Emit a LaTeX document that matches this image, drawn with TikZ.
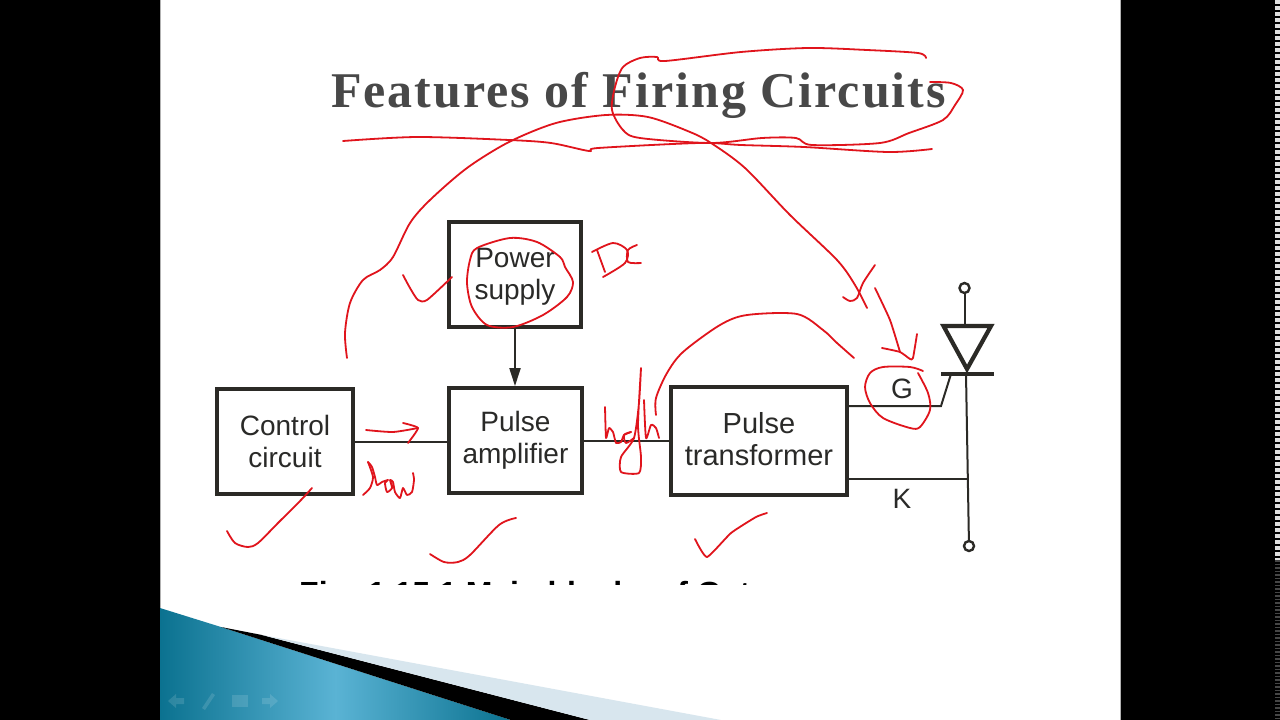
\documentclass[tikz,border=0pt]{standalone}
\usepackage{fontspec}
\setmainfont{Liberation Sans}
\newfontfamily\titlefont[LetterSpace=4.0]{Liberation Serif}
\definecolor{fcInk}{HTML}{E0141C}
\definecolor{fcText}{HTML}{2A2A28}
\definecolor{fcLine}{HTML}{2B2A26}
\definecolor{fcTitle}{HTML}{484848}
\definecolor{fcTealDark}{HTML}{0B7290}
\definecolor{fcTealLight}{HTML}{5AB3D4}
\definecolor{fcPale}{HTML}{D8E6EE}
\usetikzlibrary{arrows.meta}
\tikzset{
  blockbox/.style={draw=fcLine, line width=3.8pt, fill=white, text=fcText, align=center,
    inner sep=0pt, font=\fontsize{28}{31.5}\selectfont},
  wire/.style={draw=fcLine, line width=2pt},
  ink/.style={draw=fcInk, line width=1.8pt, line cap=round, line join=round},
  terminal/.style={circle, draw=fcLine, line width=2.4pt, fill=white, inner sep=0pt, minimum size=10pt},
  pinlabel/.style={text=fcText, font=\fontsize{28}{30}\selectfont, inner sep=0pt},
  navicon/.style={fill=white, opacity=0.13}
}
\begin{document}
\begin{tikzpicture}[x=1pt,y=-1pt]
  \useasboundingbox (0,0) rectangle (1280,720);
  \fill[black] (0,0) rectangle (1280,720);
  \fill[white] (160,0) rectangle (1121,720);
  \fill[gray!60] (1120,0) rectangle (1121.2,720);
  \fill[gray!60] (160,0) rectangle (161,720);
  % noise down the right edge
  \draw[line width=5pt, white!75!gray, dash pattern=on 4pt off 2pt] (1277.5,0) -- (1277.5,560);
  \draw[line width=5pt, gray!55!black, dash pattern=on 1.5pt off 2pt] (1277.5,560) -- (1277.5,720);
  % corner wedge of the slide
  \shade[left color=fcTealDark, right color=fcTealDark, middle color=fcTealLight]
    (160,608) -- (221,627) -- (511,720) -- (160,720) -- cycle;
  \fill[black] (221,627) -- (262,635) -- (590,720) -- (511,720) -- cycle;
  \fill[fcPale] (262,635) -- (721,720) -- (590,720) -- cycle;
  \fill[navicon] (168,701) -- (176,694) -- (176,698) -- (184,698) -- (184,704) -- (176,704) -- (176,708) -- cycle;
  \fill[navicon] (202,708) -- (212,693) -- (215,695) -- (205,710) -- cycle;
  \fill[navicon] (232,695) rectangle (248,707);
  \fill[navicon] (278,701) -- (270,694) -- (270,698) -- (262,698) -- (262,704) -- (270,704) -- (270,708) -- cycle;
  % title
  \node[anchor=base, inner sep=0pt, text=fcTitle, font=\titlefont\fontsize{50}{56}\selectfont\bfseries] (title) at (638.5,107) {Features of Firing Circuits};
  % blocks
  \node[blockbox, minimum width=136pt, minimum height=105pt] (ctrl) at (285,441.5) {Control\\circuit};
  \node[blockbox, minimum width=132pt, minimum height=105pt] (psu) at (515,274.5) {\rule{0pt}{24pt}Power\\supply};
  \node[blockbox, minimum width=133pt, minimum height=105pt] (amp) at (515.5,440.5) {Pulse\\amplifier};
  \node[blockbox, minimum width=176pt, minimum height=108pt, font=\fontsize{29}{32}\selectfont] (xfmr) at (759,441) {Pulse\\transformer\rule[-5pt]{0pt}{5pt}};
  \draw[wire] (ctrl.east) -- (ctrl.east -| amp.west);
  \draw[wire] (amp.east) -- (amp.east -| xfmr.west);
  \draw[wire, -{Triangle[length=18pt,width=11pt]}] (psu.south) -- (psu.south |- amp.north);
  % thyristor
  \node[terminal] (anode) at (964.5,288) {};
  \node[terminal] (cathode) at (969,546) {};
  \node[pinlabel] (pinG) at (902,389) {G};
  \node[pinlabel] (pinK) at (902,499) {K};
  \coordinate (triL) at (943.5,326);
  \coordinate (triR) at (991,326);
  \coordinate (triTip) at (967,369);
  \coordinate (barL) at (941,374);
  \coordinate (barR) at (994,374);
  \coordinate (barMid) at (966,374);
  \coordinate (gateTop) at (951,374);
  \coordinate (gateKnee) at (941,406);
  \coordinate (kJoin) at (968,479);
  \draw[draw=fcLine, line width=4.2pt, line join=miter, fill=white] (triL) -- (triR) -- (triTip) -- cycle;
  \draw[draw=fcLine, line width=4.2pt] (barL) -- (barR);
  \draw[wire] (anode) -- (964.5,326);
  \draw[wire] (barMid) -- (cathode);
  \draw[wire] (xfmr.east |- gateKnee) -- (gateKnee) -- (gateTop);
  \draw[wire] (xfmr.east |- kJoin) -- (kJoin);
  % clipped caption
  \begin{scope}
    \clip (280,570) rectangle (800,584);
    \node[anchor=base west, inner sep=0pt, text=black, font=\fontsize{32}{36}\selectfont\bfseries] (caption) at (299,604) {Fig. 1.15.1 Main blocks of Gate};
  \end{scope}
  % strokes over the title
  \draw[ink] plot[smooth, tension=0.5] coordinates {(926,58) (918,53) (867,50) (808,48) (741,52) (665,61) (657,57) (640,58) (623,67) (615,87) (612,110) (623,130) (640,138) (711,143) (762,138) (796,138) (812,145) (880,143) (909,133) (943,120) (955,105) (963,90) (951,83) (930,82)};
  \draw[ink] plot[smooth, tension=0.5] coordinates {(343,141) (417,137) (509,140) (551,143) (589,151) (598,148) (699,143) (741,145) (804,147) (888,152) (932,149)};
  \draw[ink] plot[smooth, tension=0.5] coordinates {(347,358) (345,333) (350,303) (363,280) (380,270) (393,257) (410,223) (430,200) (467,168) (509,142) (556,123) (606,115) (648,117) (690,132) (711,143) (745,168) (790,215) (837,260) (855,285) (867,308)};
  % strokes near the gate
  \draw[ink] plot[smooth, tension=0.5] coordinates {(875,265) (863,283) (857,298) (850,301) (843,297)};
  \draw[ink] plot[smooth, tension=0.3] coordinates {(875,288) (890,320) (900,352)};
  \draw[ink] plot[smooth, tension=0.3] coordinates {(882,348) (900,352) (910,359) (913,358) (917,334)};
  \draw[ink] plot[smooth, tension=0.5] coordinates {(923,371) (910,367) (883,367) (870,373) (865,387) (870,403) (883,418) (910,428) (920,427) (930,410) (928,393) (918,373)};
  \draw[ink] plot[smooth, tension=0.5] coordinates {(656,415) (656,398) (667,373) (683,352) (720,325) (747,315) (797,314) (823,330) (837,343) (854,358)};
  % high
  \draw[ink] plot[smooth, tension=0.3] coordinates {(605,407) (606,438) (609,428) (613,432) (616,443) (621,442) (624,435) (631,432)};
  \draw[ink] plot[smooth, tension=0.5] coordinates {(631,432) (624,435) (626,443) (634,438)};
  \draw[ink] plot[smooth, tension=0.4] coordinates {(641,368) (639,403) (634,438) (621,457) (621,472) (639,473) (641,457) (638,425) (641,368)};
  \draw[ink] plot[smooth, tension=0.4] coordinates {(644,400) (646,438) (651,425) (656,428) (659,438)};
  % low and arrow
  \draw[ink] plot[smooth, tension=0.4] coordinates {(368,462) (373,477) (370,488) (363,495)};
  \draw[ink] plot[smooth, tension=0.4] coordinates {(368,462) (372,467) (375,477) (377,485) (382,482) (388,480) (385,483) (387,492) (392,488) (390,480) (393,482) (395,492) (400,498) (403,488) (407,495) (412,492) (414,480) (413,473)};
  \draw[ink] plot[smooth, tension=0.4] coordinates {(366,430) (393,432) (418,428)};
  \draw[ink] plot[smooth, tension=0.3] coordinates {(403,423) (418,428) (408,443)};
  % ticks
  \draw[ink] plot[smooth, tension=0.5] coordinates {(227,531) (235,543) (248,547) (258,543) (278,523) (301,500) (312,488)};
  \draw[ink] plot[smooth, tension=0.5] coordinates {(430,554) (444,562) (458,562) (470,555) (499,525) (516,518)};
  \draw[ink] plot[smooth, tension=0.3] coordinates {(695,539) (707,557) (731,533) (756,517) (767,513)};
  \draw[ink] plot[smooth, tension=0.4] coordinates {(403,275) (410,288) (418,300) (427,300) (452,277)};
  % loop round the supply and DC
  \draw[ink] plot[smooth cycle, tension=0.5] coordinates {(477,248) (510,238) (537,242) (560,257) (565,267) (573,282) (567,297) (543,315) (513,327) (487,325) (472,307) (467,283) (470,260)};
  \draw[ink] plot[smooth, tension=0.5] coordinates {(592,252) (613,243) (627,250) (625,263) (603,277)};
  \draw[ink] (597,250) -- (605,272);
  \draw[ink] plot[smooth, tension=0.5] coordinates {(637,245) (628,250) (628,262) (641,263)};
\end{tikzpicture}
\end{document}
